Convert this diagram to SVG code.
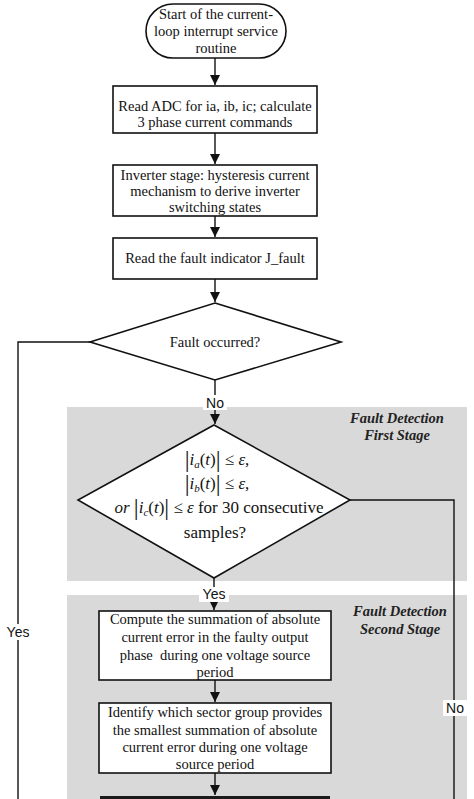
<svg xmlns="http://www.w3.org/2000/svg" width="474" height="799" viewBox="0 0 474 799">
<style>
.t{font-family:"Liberation Serif","Times New Roman",serif;font-size:14.5px;fill:#111;text-anchor:middle}
.m{font-family:"Liberation Serif","Times New Roman",serif;font-size:17px;fill:#111;text-anchor:middle}
.h{font-family:"Liberation Serif","Times New Roman",serif;font-size:14.5px;font-weight:bold;font-style:italic;fill:#222;text-anchor:middle}
.l{font-family:"Liberation Sans",Arial,sans-serif;font-size:14px;fill:#111;text-anchor:middle}
.b{fill:#fff;stroke:#111;stroke-width:1.6}
.c{fill:none;stroke:#111;stroke-width:1.4}
.panel{fill:#d9d9d9}
.lb{fill:#fff}
</style>
<defs>
<marker id="ah" markerUnits="userSpaceOnUse" markerWidth="10" markerHeight="11" refX="10" refY="5" orient="auto">
<path d="M0,0 L10,5 L0,10 z" fill="#111"/>
</marker>
</defs>
<rect width="474" height="799" fill="#fff"/>
<g id="panel1"><rect class="panel" x="67" y="407" width="400" height="174"/>
<text class="h" x="397" y="423">Fault Detection</text><text class="h" x="397" y="440">First Stage</text></g>
<g id="panel2"><rect class="panel" x="67" y="595" width="400" height="204"/>
<text class="h" x="400" y="616">Fault Detection</text><text class="h" x="400" y="634">Second Stage</text></g>
<g id="connectors">
<path class="c" d="M215,58 V85" marker-end="url(#ah)"/>
<path class="c" d="M215,133 V164" marker-end="url(#ah)"/>
<path class="c" d="M215,216 V237" marker-end="url(#ah)"/>
<path class="c" d="M215,279 V302" marker-end="url(#ah)"/>
<path class="c" d="M215,380 V424" marker-end="url(#ah)"/>
<path class="c" d="M214,578 V610" marker-end="url(#ah)"/>
<path class="c" d="M215,680 V702" marker-end="url(#ah)"/>
<path class="c" d="M215,773 V795" marker-end="url(#ah)"/>
<path class="c" d="M90,342 H18 V799"/>
<path class="c" d="M350,500 H454 V799"/>
<rect class="lb" x="203" y="395" width="24" height="15"/>
<text class="l" x="215" y="408">No</text>
<rect class="lb" x="199" y="587" width="30" height="15"/>
<text class="l" x="214" y="599">Yes</text>
<rect class="lb" x="3" y="624" width="30" height="16"/>
<text class="l" x="18" y="637">Yes</text>
<rect class="lb" x="443" y="700" width="24" height="16"/>
<text class="l" x="455" y="713">No</text>
</g>
<g id="start"><rect class="b" x="146" y="4" width="140" height="54" rx="27" ry="27"/>
<text class="t" x="216" y="19">Start of the current-</text>
<text class="t" x="216" y="36">loop interrupt service</text>
<text class="t" x="216" y="53">routine</text></g>
<g id="readadc"><rect class="b" x="113" y="86" width="204" height="47"/>
<text class="t" x="215" y="111">Read ADC for ia, ib, ic; calculate</text>
<text class="t" x="215" y="127">3 phase current commands</text></g>
<g id="inverter"><rect class="b" x="113" y="165" width="204" height="51"/>
<text class="t" x="215" y="180">Inverter stage: hysteresis current</text>
<text class="t" x="215" y="196">mechanism to derive inverter</text>
<text class="t" x="215" y="212">switching states</text></g>
<g id="readfault"><rect class="b" x="113" y="238" width="204" height="41"/>
<text class="t" x="215" y="263">Read the fault indicator J_fault</text></g>
<g id="faultq"><path class="b" d="M215,303 L341,342 L215,380 L90,342 Z"/>
<text class="t" x="215" y="347">Fault occurred?</text></g>
<g id="detectq"><path class="b" d="M214,425 L350,500 L214,578 L78,500 Z"/>
<text class="m" x="217" y="465"><tspan font-size="24" dy="2">|</tspan><tspan font-style="italic" dy="-2">i</tspan><tspan font-size="11" font-style="italic" dy="3">a</tspan><tspan dy="-3">(</tspan><tspan font-style="italic">t</tspan><tspan>)</tspan><tspan font-size="24" dy="2">|</tspan><tspan dy="-2"> ≤ </tspan><tspan font-style="italic">ε</tspan><tspan>,</tspan></text>
<text class="m" x="217" y="489"><tspan font-size="24" dy="2">|</tspan><tspan font-style="italic" dy="-2">i</tspan><tspan font-size="11" font-style="italic" dy="3">b</tspan><tspan dy="-3">(</tspan><tspan font-style="italic">t</tspan><tspan>)</tspan><tspan font-size="24" dy="2">|</tspan><tspan dy="-2"> ≤ </tspan><tspan font-style="italic">ε</tspan><tspan>,</tspan></text>
<text class="m" x="219" y="513"><tspan font-style="italic">or </tspan><tspan font-size="24" dy="2">|</tspan><tspan font-style="italic" dy="-2">i</tspan><tspan font-size="11" font-style="italic" dy="3">c</tspan><tspan dy="-3">(</tspan><tspan font-style="italic">t</tspan><tspan>)</tspan><tspan font-size="24" dy="2">|</tspan><tspan dy="-2"> ≤ </tspan><tspan font-style="italic">ε</tspan><tspan> for 30 consecutive</tspan></text>
<text class="m" x="215" y="538">samples?</text></g>
<g id="compute"><rect class="b" x="99" y="611" width="232" height="69"/>
<text class="t" x="215" y="624">Compute the summation of absolute</text>
<text class="t" x="215" y="642">current error in the faulty output</text>
<text class="t" x="215" y="660" xml:space="preserve">phase  during one voltage source</text>
<text class="t" x="215" y="677">period</text></g>
<g id="identify"><rect class="b" x="99" y="703" width="232" height="70"/>
<text class="t" x="215" y="717">Identify which sector group provides</text>
<text class="t" x="215" y="735">the smallest summation of absolute</text>
<text class="t" x="215" y="752">current error during one voltage</text>
<text class="t" x="215" y="769">source period</text></g>
<g id="next"><rect x="100" y="796" width="230" height="5" fill="#1a1a1a"/></g>
</svg>
